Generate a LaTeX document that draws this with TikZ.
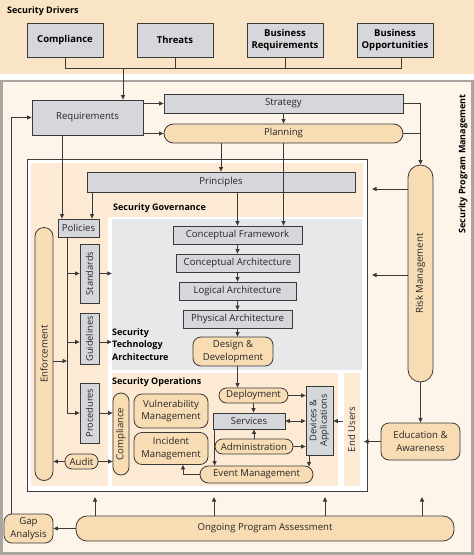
\documentclass[tikz,border=0pt]{standalone}
\usepackage{fontspec}
\setmainfont{Open Sans}
\usepackage{graphicx}
\usetikzlibrary{arrows.meta,calc}
\definecolor{lineC}{HTML}{3A3A3A}
\definecolor{boxC}{HTML}{D6D7DA}
\definecolor{pillC}{HTML}{F8DCB4}
\definecolor{bandC}{HTML}{FAE4C6}
\definecolor{bgC}{HTML}{FEF5EA}
\definecolor{panelC}{HTML}{FCEAD4}
\definecolor{staC}{HTML}{E7E8EA}
\definecolor{borderC}{HTML}{A9A5A0}
\definecolor{innerC}{HTML}{404040}
\definecolor{txtC}{HTML}{262626}
\begin{document}
\begin{tikzpicture}[x=1pt,y=-1pt,
  >={Triangle[length=4.5pt,width=4pt]},
  conn/.style={draw=lineC, line width=0.8pt},
  arr/.style={conn,->},
  base/.style={draw=lineC, line width=0.8pt, inner sep=0pt, text=txtC, align=center, font=\fontsize{9.6}{12.5}\selectfont},
  gbox/.style={base, fill=boxC},
  vbox/.style={gbox, font=\fontsize{9.2}{10.5}\selectfont},
  obox/.style={base, fill=pillC, rounded corners=#1},
  obox/.default=8pt,
  head/.style={font=\bfseries\fontsize{9}{12.5}\selectfont, text=black, inner sep=0pt, align=left},
  drv/.style={gbox, font=\bfseries\fontsize{9.5}{12}\selectfont, text=black, minimum width=76pt, minimum height=34pt},
  panel/.style={draw=none, inner sep=0pt},
]
\useasboundingbox (0,0) rectangle (474,555);
\fill[white] (0,0) rectangle (474,555);
% ---------- Security Drivers band
\fill[bandC] (0,0) rectangle (474,74);
\node[head, anchor=west] (sdlabel) at (7,11.5) {Security Drivers};
\node[drv] (comp) at (65,40) {Compliance};
\node[drv] (threats) at (175,40) {Threats};
\node[drv] (bizreq) at (285,40) {Business\\Requirements};
\node[drv] (bizopp) at (395,40) {Business\\Opportunities};
% ---------- Program management region
\draw[draw=borderC, fill=bgC, line width=2.6pt] (1.3,81) rectangle (472.7,553.7);
\node[head, rotate=90] (spm) at (463,164) {Security Program Management};
% inner box and panels
\node[panel, draw=innerC, line width=1pt, fill=white, minimum width=340pt, minimum height=332pt] (inner) at (197,325) {};
\fill[panelC] (31,163) rectangle (363,217);
\fill[panelC] (31,217) rectangle (108,486);
\node[panel, fill=staC, minimum width=250pt, minimum height=151pt] (stap) at (237,294.5) {};
\node[panel, fill=panelC, minimum width=226pt, minimum height=113pt] (opsp) at (225,429.5) {};
\node[panel, fill=panelC, minimum width=16pt, minimum height=113pt, text=txtC, font=\fontsize{9.6}{10.5}\selectfont] (eup) at (351.5,429.5) {\rotatebox{90}{End Users}};
\node[head, anchor=west] (sglabel) at (113,208) {Security Governance};
\node[head, anchor=west] (stalabel) at (112,344.5) {Security\\Technology\\Architecture};
\node[head, anchor=west] (solabel) at (112,382) {Security Operations};
% top nodes
\node[gbox, minimum width=111pt, minimum height=35pt] (req) at (87.5,117.5) {Requirements};
\node[gbox, minimum width=239pt, minimum height=19pt] (strategy) at (283.5,103.5) {Strategy};
\node[obox=9.5pt, minimum width=239pt, minimum height=19pt] (planning) at (283.5,133.5) {Planning};
\node[obox=12.5pt, minimum width=25pt, minimum height=217pt] (risk) at (420.5,273.5) {\rotatebox{90}{Risk Management}};
\node[obox, minimum width=79pt, minimum height=37pt] (edu) at (420.5,441.5) {Education \&\\Awareness};
% governance
\node[gbox, minimum width=268pt, minimum height=20pt] (principles) at (221,182) {Principles};
\node[gbox, minimum width=41pt, minimum height=18pt] (policies) at (78.5,228) {Policies};
\node[obox=9pt, minimum width=18pt, minimum height=253pt] (enf) at (44,354) {\rotatebox{90}{Enforcement}};
\node[vbox, minimum width=19pt, minimum height=59pt] (standards) at (89.5,273.5) {\rotatebox{90}{Standards}};
\node[vbox, minimum width=19pt, minimum height=51pt] (guidelines) at (89.5,339) {\rotatebox{90}{Guidelines}};
\node[vbox, minimum width=19pt, minimum height=60pt] (procedures) at (89.5,413) {\rotatebox{90}{Procedures}};
\node[obox=7pt, minimum width=33pt, minimum height=15pt] (audit) at (81.5,461.5) {Audit};
% architecture
\node[gbox, minimum width=129pt, minimum height=18pt] (cf) at (237.5,235) {Conceptual Framework};
\node[gbox, minimum width=123pt, minimum height=18pt] (ca) at (237.5,263) {Conceptual Architecture};
\node[gbox, minimum width=117pt, minimum height=18pt] (la) at (237.5,291) {Logical Architecture};
\node[gbox, minimum width=109pt, minimum height=18pt] (pa) at (237.5,319.5) {Physical Architecture};
\node[obox, minimum width=80pt, minimum height=29pt] (dd) at (233,351.5) {Design \&\\Development};
% operations
\node[obox=8pt, minimum width=16pt, minimum height=82pt] (compl) at (121,434) {\rotatebox{90}{Compliance}};
\node[obox, minimum width=74pt, minimum height=34pt] (vuln) at (171,411) {Vulnerability\\Management};
\node[obox, minimum width=74pt, minimum height=32pt] (incident) at (171,448.5) {Incident\\Management};
\node[obox=7.5pt, minimum width=69pt, minimum height=15pt] (deploy) at (253.5,395.5) {Deployment};
\node[gbox, minimum width=72pt, minimum height=16pt] (services) at (249,421) {Services};
\node[obox=7.5pt, minimum width=78pt, minimum height=15pt] (admin) at (254,446.5) {Administration};
\node[obox=8.5pt, minimum width=113pt, minimum height=17pt] (event) at (256.5,474.5) {Event Management};
\node[vbox, minimum width=27pt, minimum height=69pt] (devices) at (319.5,420.5) {\rotatebox{90}{\begin{tabular}{@{}c@{}}Devices \&\\Applications\end{tabular}}};
% bottom
\node[obox=11pt, minimum width=378pt, minimum height=25pt] (ongoing) at (265,528.5) {Ongoing Program Assessment};
\node[obox, minimum width=49pt, minimum height=29pt] (gap) at (28.5,528.5) {Gap\\Analysis};
% ---------- connectors
\coordinate (bus) at (123,68);
\coordinate (bo) at ([xshift=6pt]bizopp.south);
\draw[conn] (comp.south) -- (comp.south |- bus) -- (bo |- bus) -- (bo);
\draw[conn] (threats.south) -- (threats.south |- bus);
\draw[conn] (bizreq.south) -- (bizreq.south |- bus);
\draw[arr] (bus) -- (bus |- req.north);
\draw[arr] (req.east |- strategy.west) -- (strategy.west);
\draw[arr] (req.east |- planning.west) -- (planning.west);
\draw[arr] (strategy.south) -- (planning.north);
\draw[arr] (strategy.east) -| (risk.north);
\draw[conn] (planning.east) -- (planning.east -| risk.north);
\coordinate (ra1) at (372,189);
\coordinate (ra2) at (372,275);
\draw[arr] (risk.west |- ra1) -- (ra1);
\draw[arr] (risk.west |- ra2) -- (ra2);
\draw[arr] (risk.south) -- (edu.north);
\coordinate (eua) at (364,441.5);
\draw[arr] (edu.west) -- (eua);
\draw[arr] (planning.south -| principles.north) -- (principles.north);
\draw[arr] (planning.south) -- (planning.south |- cf.north);
\draw[arr] (principles.south -| cf.north) -- (cf.north);
\draw[arr] (cf.south) -- (ca.north);
\draw[arr] (ca.south) -- (la.north);
\draw[arr] (la.south) -- (pa.north);
\draw[arr] (pa.south) -- (pa.south |- dd.north);
\coordinate (rp) at ([xshift=-25.5pt]req.south);
\draw[arr] (rp) -- (rp |- policies.north);
\coordinate (pp) at ([xshift=13.5pt]policies.north);
\draw[arr] (principles.south -| pp) -- (pp);
\coordinate (pl) at ([xshift=-11.5pt]policies.south);
\draw[conn] (pl) -- (pl |- procedures.west);
\draw[arr] (pl |- standards.west) -- (standards.west);
\coordinate (gl) at ([yshift=-3pt]guidelines.west);
\draw[arr] (pl |- gl) -- (gl);
\draw[arr] (pl |- procedures.west) -- (procedures.west);
\coordinate (en) at ([yshift=-7pt]enf.east);
\draw[arr] (en) -- (pl |- en);
\draw[arr] (standards.east) -- (stap.west |- standards.east);
\coordinate (gr) at ([yshift=-3pt]guidelines.east);
\draw[arr] (gr) -- (stap.west |- gr);
\draw[arr] (procedures.east) -- (compl.west |- procedures.east);
\draw[arr] (audit.west) -- (enf.east |- audit.west);
\draw[arr] (audit.east) -- (compl.west |- audit.east);
% operations connectors
\draw[arr] (dd.south -| pa.south) -- (deploy.north -| pa.south);
\draw[arr] (deploy.east) -- (devices.west |- deploy.east);
\draw[arr] (deploy.south) -- (services.north -| deploy.south);
\draw[arr] (admin.north) -- (services.south -| admin.north);
\draw[arr,<->] (services.east) -- (devices.west |- services.east);
\draw[arr] (admin.east) -- (devices.west |- admin.east);
\draw[arr] (eup.west |- services.east) -- (devices.east |- services.east);
\coordinate (dv) at ([xshift=-10.5pt]devices.south);
\draw[arr] (dv) -- ([yshift=-1pt]dv |- event.north);
\coordinate (sv) at ([xshift=2pt]services.south west);
\draw[arr] (sv) -- (sv |- event.north);
\coordinate (iv) at ([xshift=12pt]incident.south);
\draw[arr] (event.west) -| (iv);
% bottom connectors
\foreach \x [count=\i] in {95,214,325,422} {
  \coordinate (up\i) at (\x,497);
  \draw[arr] (ongoing.north -| up\i) -- (up\i);
}
\draw[arr] (ongoing.west) -- (gap.east);
\coordinate (gv) at ([xshift=-17.5pt]gap.north);
\draw[arr] (gv) |- (req.west);
\end{tikzpicture}
\end{document}
